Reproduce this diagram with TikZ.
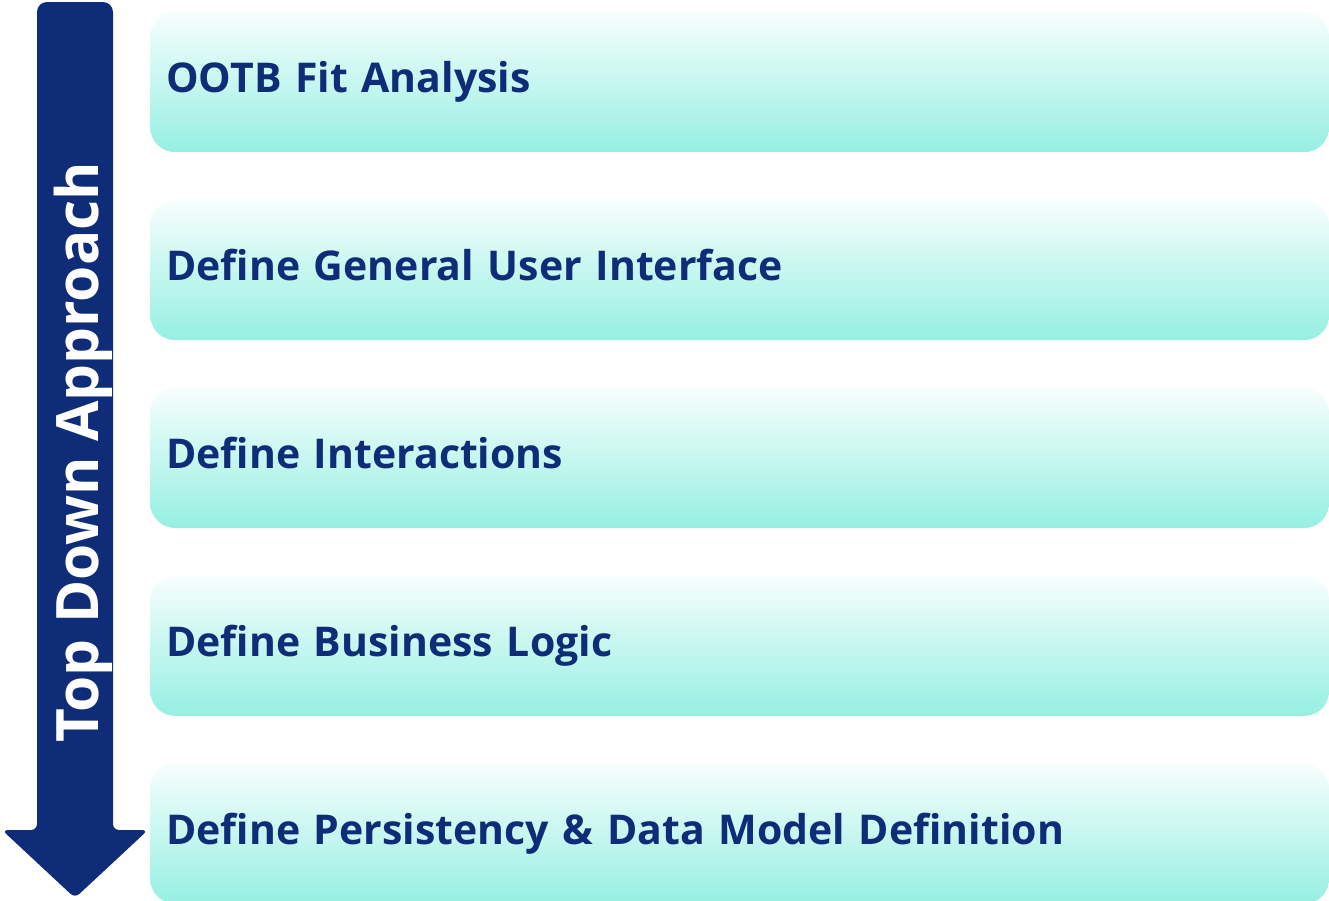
\documentclass[tikz,border=0pt]{standalone}
\usepackage{fontspec}
\setmainfont{Open Sans}
\usetikzlibrary{positioning}
\definecolor{navy}{HTML}{0E2C77}
\definecolor{mint}{HTML}{96EFE2}
\definecolor{mintlight}{HTML}{F7FEFD}
\tikzstyle{stage} = [rectangle, rounded corners=25pt, minimum width=1179pt, minimum height=140pt, text width=1147pt, inner xsep=16pt, text height=30pt, text depth=9pt, align=left, top color=mintlight, bottom color=mint, text=navy, font=\fontsize{41}{49}\selectfont\bfseries]
\tikzstyle{pointer} = [fill=navy, rounded corners=6pt]
\tikzstyle{caption} = [rotate=90, anchor=base, text=white, font=\fontsize{58.5}{70}\selectfont\bfseries]

\begin{document}
\begin{tikzpicture}[x=1pt, y=-1pt, node distance=47.5pt]
\useasboundingbox (0,0) rectangle (1329,900);

% steps, top to bottom
\node (ootb) [stage, anchor=north west] at (150,12) {OOTB Fit Analysis};
\node (ui) [stage, below=of ootb] {Define General User Interface};
\node (inter) [stage, below=of ui] {Define Interactions};
\node (logic) [stage, below=of inter] {Define Business Logic};
\node (data) [stage, below=of logic] {Define Persistency \& Data Model Definition};

% the big arrow
\fill [pointer] (2,830) -- (37,830) [rounded corners=10pt] -- (37,2) -- (113,2) [rounded corners=6pt] -- (113,830) -- (148,830) -- (75,898) -- cycle;
\node (approach) [caption] at (98,452) {Top Down Approach};
\end{tikzpicture}
\end{document}
